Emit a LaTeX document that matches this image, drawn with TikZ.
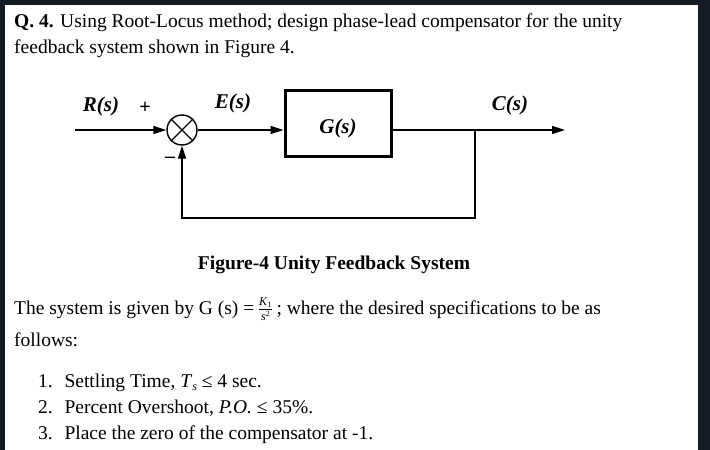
\documentclass[tikz,border=0pt]{standalone}
\usepackage{fontspec}
\setmainfont{Liberation Serif}
\usetikzlibrary{arrows.meta}
\definecolor{frame}{HTML}{141B22}
\newcommand{\myfrac}[2]{\raisebox{-6pt}{\fontsize{12}{12}\selectfont\vbox{\offinterlineskip\halign{\hfil##\hfil\cr \strut#1\cr\noalign{\kern0.5pt\hrule height 0.5pt\kern1pt} \strut#2\cr}}}}
\begin{document}
\begin{tikzpicture}[x=1pt,y=-1pt,
  wire/.style={line width=1.1pt},
  arr/.style={wire,-{Triangle[length=13pt,width=8pt]}},
  lbl/.style={font=\fontsize{21}{24}\selectfont\bfseries\itshape,inner sep=0pt},
  txt/.style={font=\fontsize{19.5}{22}\selectfont,anchor=base west,inner sep=0pt}]
\useasboundingbox (0,0) rectangle (710,450);
\fill[frame] (0,0) rectangle (710,450);
\fill[white] (5,5) rectangle (698,450);
\node[txt] (t1) at (14,27) {\textbf{Q. 4.} Using Root-Locus method; design phase-lead compensator for the unity};
\node[txt] (t2) at (14,53) {feedback system shown in Figure 4.};
% diagram
\coordinate (in) at (75,130);
\node[circle,draw,line width=1.4pt,minimum size=30pt,inner sep=0pt] (sum) at (182,130) {};
\draw[line width=1.4pt] (sum.45) -- (sum.225) (sum.135) -- (sum.-45);
\node[draw,line width=3pt,minimum width=106pt,minimum height=66pt] (G) at (338,123) {};
\node[lbl] (gl) at (338,128) {G(s)};
\coordinate (out) at (565,130);
\coordinate (tap) at (475,130);
\coordinate (fb1) at (475,218);
\coordinate (fb2) at (182,218);
\draw[arr] (in) -- (sum.west);
\draw[arr] (sum.east) -- (G.west |- sum.east);
\draw[arr] (G.east |- tap) -- (out);
\draw[arr] (tap) -- (fb1) -- (fb2) -- (sum.south);
\node[lbl] (rl) at (101,106) {R(s)};
\node[font=\fontsize{20}{22}\selectfont\bfseries,inner sep=0pt] (pl) at (145,108) {+};
\node[lbl] (el) at (233,103) {E(s)};
\node[lbl] (cl) at (510,105) {C(s)};
\node[font=\fontsize{20}{22}\selectfont\bfseries,inner sep=0pt] (mi) at (170,160) {–};
\node[font=\fontsize{19.5}{22}\selectfont\bfseries,anchor=base,inner sep=0pt] (cap) at (334,269) {Figure-4 Unity Feedback System};
\node[txt] (p1) at (14,314) {The system is given by G (s) = \myfrac{\textit{K}\raisebox{-0.4ex}{\fontsize{8}{8}\selectfont 1}}{\textit{s}\raisebox{0.7ex}{\fontsize{8}{8}\selectfont 2}} ; where the desired specifications to be as};
\node[txt] (p2) at (14,346) {follows:};
\node[txt] (l1) at (38,387) {1.\hspace{0.6em}Settling Time, \textit{T}\raisebox{-0.4ex}{\fontsize{12}{12}\selectfont\textit{s}} ≤ 4 sec.};
\node[txt] (l2) at (38,413) {2.\hspace{0.6em}Percent Overshoot, \textit{P.O.} ≤ 35\%.};
\node[txt] (l3) at (38,439) {3.\hspace{0.6em}Place the zero of the compensator at -1.};
\end{tikzpicture}
\end{document}
